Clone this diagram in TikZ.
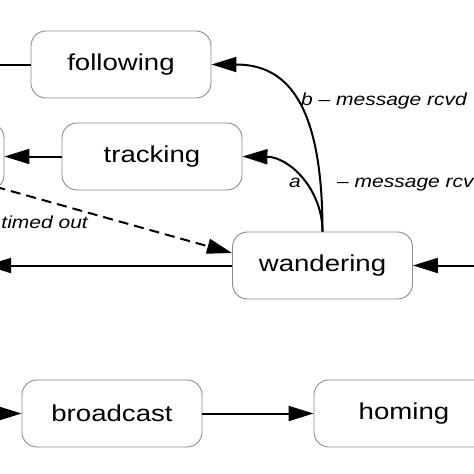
\documentclass[tikz,border=0pt]{standalone}
\usepackage{fontspec}
\setmainfont[FakeStretch=1.2]{Liberation Sans}
\usetikzlibrary{arrows.meta}
\tikzset{
  state/.style={draw=black!45, line width=0.9pt, rounded corners=15pt, minimum width=180pt, minimum height=67pt, inner sep=0pt, font=\fontsize{23}{26}\selectfont, text=black},
  edge/.style={line width=2pt, -{Triangle[length=25pt, width=15pt]}},
  plain/.style={line width=2pt},
  lab/.style={font=\fontsize{17.5}{20}\selectfont\itshape, inner sep=0pt, text=black},
}
\begin{document}
\begin{tikzpicture}[x=1pt,y=-1pt]
\useasboundingbox (0,0) rectangle (474,474);
\clip (0,0) rectangle (474,474);
\fill[white] (0,0) rectangle (474,474);
% states
\node[state] (following) at (121,64.5) {following};
\node[state] (tracking) at (152,156.5) {tracking};
\node[state] (wandering) at (322.5,265.5) {wandering};
\node[state] (broadcast) at (112,413.5) {broadcast};
\node[state] (homing) at (404,413.5) {homing};
\node[state] (leftbox) at (-86,156.5) {};
% free ends
\coordinate (fl) at (-30,64.5);
\coordinate (wl) at (-14,265.5);
\coordinate (ds) at (-20,182.4);
\coordinate (dt) at (232,253);
\coordinate (bl) at (-30,413.5);
\coordinate (wr) at (500,265.5);
% connectors
\draw[plain] (following.west) -- (fl);
\draw[edge] (tracking.west) -- (leftbox.east);
\draw[edge] (wandering.west) -- (wl);
\draw[edge, dashed, dash pattern=on 10pt off 6pt] (ds) -- (dt);
\draw[edge] (bl) -- (broadcast.west);
\draw[edge] (broadcast.east) -- (homing.west);
\draw[edge] (wr) -- (wandering.east);
\draw[edge] (wandering.north) .. controls (322.5,100) and (285,64.5) .. (following.east);
\draw[edge] (wandering.north) .. controls (322.5,190) and (290,157) .. (tracking.east);
% labels
\node[lab] (lb) at (384,101) {b – message rcvd};
\node[lab] (la) at (295,183) {a};
\node[lab, anchor=west] (la2) at (337,183) {– message rcvd};
\node[lab, anchor=east] (lt) at (88,222) {timed out};
\end{tikzpicture}
\end{document}
